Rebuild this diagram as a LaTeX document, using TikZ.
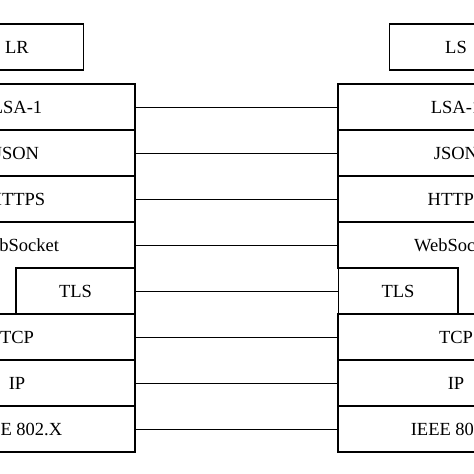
\documentclass[tikz,border=0pt]{standalone}
\usepackage{fontspec}
\setmainfont{Liberation Serif}
\begin{document}
\begin{tikzpicture}[x=1pt,y=-1pt,
  layer/.style={draw, line width=1.8pt, rectangle, inner sep=0pt, minimum height=46pt, minimum width=236pt, font=\fontsize{18.5}{20}\selectfont},
  tlsbox/.style={layer, minimum width=119pt},
  topbox/.style={layer, minimum width=133pt},
  plain/.style={layer, draw=none},
  link/.style={line width=0.9pt}]
\useasboundingbox (0,0) rectangle (474,474);
\clip (0,0) rectangle (474,474);
\fill[white] (0,0) rectangle (474,474);
% left stack
\node[topbox] (lr) at (17,47) {LR};
\node[layer] (llsa) at (17,107) {LSA-1};
\node[layer] (ljson) at (17,153) {JSON};
\node[layer] (lhttps) at (17,199) {HTTPS};
\node[plain] (lws) at (17,245) {WebSocket};
\draw[line width=1.8pt] (-101,222) -- (135,222) -- (135,268) -- (16,268) -- (16,314) -- (-101,314) -- cycle;
\node[tlsbox] (ltls) at (75.5,291) {TLS};
\node[layer] (ltcp) at (17,337) {TCP};
\node[layer] (lip) at (17,383) {IP};
\node[layer] (lieee) at (17,429) {IEEE 802.X};
% right stack
\node[topbox] (ls) at (456,47) {LS};
\node[layer] (rlsa) at (456,107) {LSA-1};
\node[layer] (rjson) at (456,153) {JSON};
\node[layer] (rhttps) at (456,199) {HTTPS};
\node[plain] (rws) at (456,245) {WebSocket};
\draw[line width=1.8pt] (338,222) -- (574,222) -- (574,314) -- (458,314) -- (458,268) -- (338,268) -- cycle;
\node[tlsbox] (rtls) at (398,291) {TLS};
\node[layer] (rtcp) at (456,337) {TCP};
\node[layer] (rip) at (456,383) {IP};
\node[layer] (rieee) at (456,429) {IEEE 802.X};
% connectors
\draw[link] (llsa.east) -- (rlsa.west);
\draw[link] (ljson.east) -- (rjson.west);
\draw[link] (lhttps.east) -- (rhttps.west);
\draw[link] (lws.east) -- (rws.west);
\draw[link] (ltls.east) -- (rtls.west);
\draw[link] (ltcp.east) -- (rtcp.west);
\draw[link] (lip.east) -- (rip.west);
\draw[link] (lieee.east) -- (rieee.west);
\end{tikzpicture}
\end{document}
